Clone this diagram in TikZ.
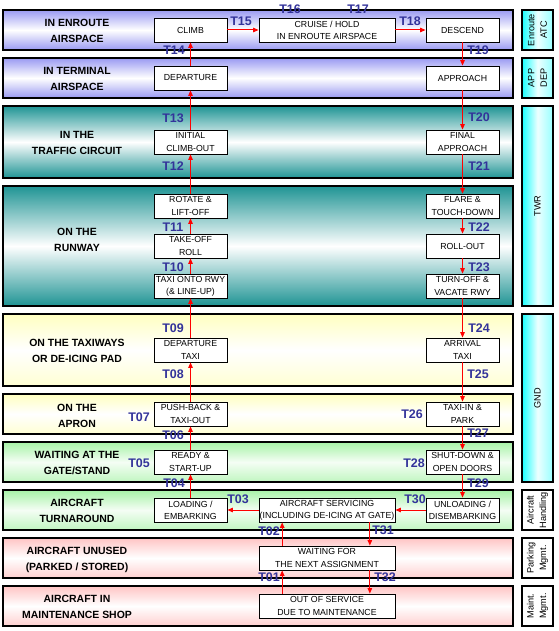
\documentclass[tikz,border=0pt]{standalone}
\usepackage{fontspec}
\setsansfont{Liberation Sans}
\usetikzlibrary{arrows.meta}
\definecolor{tblue}{HTML}{33339A}
\definecolor{violetband}{HTML}{9A9AF2}
\definecolor{tealband}{HTML}{1F9494}
\definecolor{yellowband}{HTML}{FFFFC0}
\definecolor{greenband}{HTML}{A6F2A6}
\definecolor{pinkband}{HTML}{FFC4C4}
\definecolor{unitcyan}{HTML}{1AFFFF}

\begin{document}
\begin{tikzpicture}[x=1bp, y=-1bp, font=\sffamily, >=Stealth,
    band/.style={draw=black, line width=1.1pt},
    shadeviolet/.style={top color=violetband, bottom color=violetband, middle color=white},
    shadeteal/.style={top color=tealband, bottom color=tealband, middle color=white},
    shadeyellow/.style={top color=yellowband, bottom color=yellowband!70, middle color=white},
    shadegreen/.style={top color=greenband, bottom color=greenband!70, middle color=greenband!12},
    shadepink/.style={top color=pinkband, bottom color=pinkband!80, middle color=white},
    shadecyan/.style={left color=unitcyan, right color=unitcyan!45, middle color=unitcyan!8},
    shadewhite/.style={left color=white, right color=white},
    proc/.style={draw, fill=white, line width=0.8pt, minimum width=73bp, minimum height=24bp,
        inner sep=0pt, align=center, font=\sffamily\fontsize{8.8}{12.3}\selectfont},
    wideproc/.style={proc, minimum width=136bp},
    phase/.style={align=center, font=\sffamily\bfseries\fontsize{10.5}{16}\selectfont},
    tlabel/.style={inner sep=0pt, text=tblue, font=\sffamily\bfseries\fontsize{12.5}{13}\selectfont},
    unit/.style={rotate=90, align=center, inner sep=0pt, font=\sffamily\fontsize{9.2}{12.5}\selectfont},
    flow/.style={red, line width=1pt, -{Triangle[length=5.5bp, width=4.5bp]}}]

    \useasboundingbox (0,0) rectangle (559,631);

    % Phase bands
    \foreach \ya/\yb/\shd in {10/50/shadeviolet, 58/98/shadeviolet, 106/178/shadeteal,
        186/306/shadeteal, 314/386/shadeyellow, 394/434/shadeyellow, 442/482/shadegreen,
        490/530/shadegreen, 538/578/shadepink, 586/626/shadepink} {
        \shade[band, \shd] (3,\ya) rectangle (513,\yb);
    }

    % Responsible units
    \foreach \ya/\yb/\shd in {10/50/shadecyan, 58/98/shadecyan, 106/306/shadecyan,
        314/482/shadecyan, 490/530/shadewhite, 538/578/shadewhite, 586/626/shadewhite} {
        \shade[band, \shd] (522,\ya) rectangle (553,\yb);
    }
    \node[unit] (atc) at (537.5,30) {Enroute\\ATC};
    \node[unit] (appdep) at (537.5,78) {APP\\DEP};
    \node[unit] (twr) at (537.5,206) {TWR};
    \node[unit] (gnd) at (537.5,398) {GND};
    \node[unit] (handling) at (537.5,510) {Aircraft\\Handling};
    \node[unit] (parking) at (537.5,558) {Parking\\Mgmt.};
    \node[unit] (maint) at (537.5,606) {Maint.\\Mgmt.};

    % Phase names
    \node[phase] (ph-enroute) at (77,31) {IN ENROUTE\\AIRSPACE};
    \node[phase] (ph-terminal) at (77,79) {IN TERMINAL\\AIRSPACE};
    \node[phase] (ph-circuit) at (77,143) {IN THE\\TRAFFIC CIRCUIT};
    \node[phase] (ph-runway) at (77,240) {ON THE\\RUNWAY};
    \node[phase] (ph-taxiway) at (77,351) {ON THE TAXIWAYS\\OR DE-ICING PAD};
    \node[phase] (ph-apron) at (77,416) {ON THE\\APRON};
    \node[phase] (ph-gate) at (77,463) {WAITING AT THE\\GATE/STAND};
    \node[phase] (ph-turn) at (77,511) {AIRCRAFT\\TURNAROUND};
    \node[phase] (ph-unused) at (77,560) {AIRCRAFT UNUSED\\(PARKED / STORED)};
    \node[phase] (ph-shop) at (77,607) {AIRCRAFT IN\\MAINTENANCE SHOP};

    % Flight states
    \node[proc] (climb) at (190.5,30) {CLIMB};
    \node[wideproc] (cruise) at (327,30) {CRUISE / HOLD\\IN ENROUTE AIRSPACE};
    \node[proc] (descend) at (462.5,30) {DESCEND};
    \node[proc] (departure) at (190.5,78) {DEPARTURE};
    \node[proc] (approach) at (462.5,78) {APPROACH};
    \node[proc] (initial) at (190.5,142) {INITIAL\\CLIMB-OUT};
    \node[proc] (final) at (462.5,142) {FINAL\\APPROACH};
    \node[proc] (rotate) at (190.5,206) {ROTATE \&\\LIFT-OFF};
    \node[proc] (flare) at (462.5,206) {FLARE \&\\TOUCH-DOWN};
    \node[proc] (takeoff) at (190.5,246) {TAKE-OFF\\ROLL};
    \node[proc] (rollout) at (462.5,246) {ROLL-OUT};
    \node[proc] (lineup) at (190.5,286) {TAXI ONTO RWY\\(\& LINE-UP)};
    \node[proc] (vacate) at (462.5,286) {TURN-OFF \&\\VACATE RWY};
    \node[proc] (deptaxi) at (190.5,350) {DEPARTURE\\TAXI};
    \node[proc] (arrtaxi) at (462.5,350) {ARRIVAL\\TAXI};
    \node[proc] (pushback) at (190.5,414) {PUSH-BACK \&\\TAXI-OUT};
    \node[proc] (taxiin) at (462.5,414) {TAXI-IN \&\\PARK};
    \node[proc] (ready) at (190.5,462) {READY \&\\START-UP};
    \node[proc] (shutdown) at (462.5,462) {SHUT-DOWN \&\\OPEN DOORS};
    \node[proc] (loading) at (190.5,510) {LOADING /\\EMBARKING};
    \node[wideproc] (servicing) at (327,510) {AIRCRAFT SERVICING\\(INCLUDING DE-ICING AT GATE)};
    \node[proc] (unloading) at (462.5,510) {UNLOADING /\\DISEMBARKING};
    \node[wideproc] (waiting) at (327,558) {WAITING FOR\\THE NEXT ASSIGNMENT};
    \node[wideproc] (outofservice) at (327,606) {OUT OF SERVICE\\DUE TO MAINTENANCE};

    % Transitions
    \foreach \a/\b in {loading/ready, ready/pushback, pushback/deptaxi, deptaxi/lineup,
        lineup/takeoff, takeoff/rotate, rotate/initial, initial/departure, departure/climb,
        climb/cruise, cruise/descend, descend/approach, approach/final, final/flare,
        flare/rollout, rollout/vacate, vacate/arrtaxi, arrtaxi/taxiin, taxiin/shutdown,
        shutdown/unloading, unloading/servicing, servicing/loading} {
        \draw[flow] (\a) -- (\b);
    }
    \draw[flow] ([xshift=43]servicing.south) -- ([xshift=43]waiting.north);
    \draw[flow] ([xshift=43]waiting.south) -- ([xshift=43]outofservice.north);
    \draw[flow] ([xshift=-45]outofservice.north) -- ([xshift=-45]waiting.south);
    \draw[flow] ([xshift=-45]waiting.north) -- ([xshift=-45]servicing.south);

    % Transition numbers
    \foreach \n/\x/\y in {14/174/50, 15/241/21, 16/290/9, 17/358/9, 18/410/21, 19/478/50,
        13/173/118, 12/173/166, 11/173/227, 10/173/267,
        20/479/117, 21/479/166, 22/479/227, 23/479/267,
        09/173/328, 08/173/374, 07/139/417, 06/173/435, 05/139/463, 04/174/483,
        24/479/328, 25/478/374, 26/412/414, 27/478/433, 28/414/463, 29/478/483,
        03/238/499, 30/415/499, 02/269/531, 31/383/530, 01/269/577, 32/385/577} {
        \node[tlabel] (t\n) at (\x,\y) {T\n};
    }

\end{tikzpicture}
\end{document}
